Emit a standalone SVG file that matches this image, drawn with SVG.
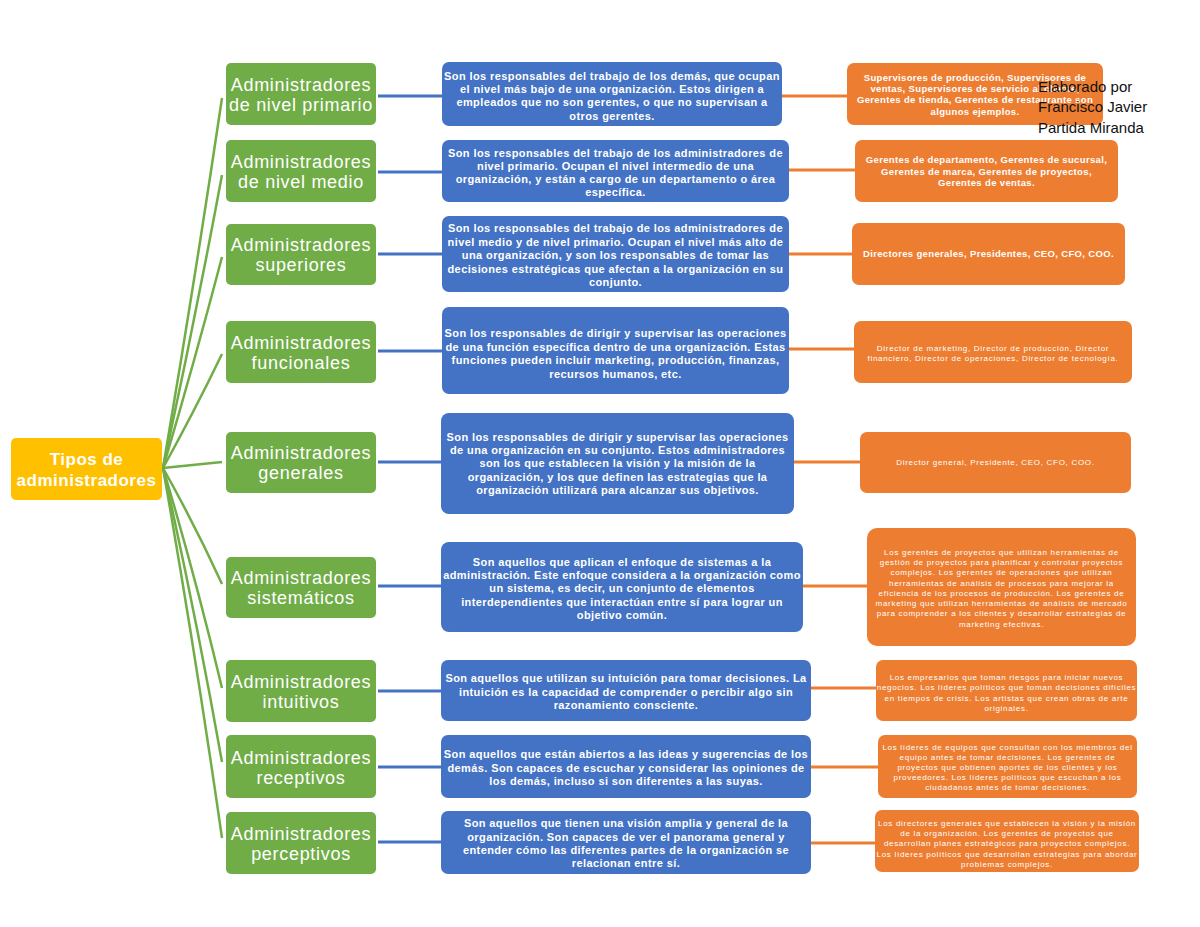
<svg xmlns="http://www.w3.org/2000/svg" width="1200" height="927" viewBox="0 0 1200 927">
<style>
.root{fill:#FFC000}
.g{fill:#70AD47}
.b{fill:#4472C4}
.o{fill:#ED7D31}
.rt{font-family:"Liberation Sans",Arial,sans-serif;font-size:17px;font-weight:bold;fill:#fff;text-anchor:middle;letter-spacing:0.5px}
.gt{font-family:"Liberation Sans",Arial,sans-serif;font-size:18px;fill:#fff;text-anchor:middle;letter-spacing:0.7px}
.bt{font-family:"Liberation Sans",Arial,sans-serif;font-size:11px;font-weight:bold;fill:#fff;text-anchor:middle;letter-spacing:0.4px}
.ot{font-family:"Liberation Sans",Arial,sans-serif;font-size:9.5px;font-weight:bold;fill:#fff;text-anchor:middle;letter-spacing:0.35px}
.os{font-family:"Liberation Sans",Arial,sans-serif;font-size:8px;fill:#fff;text-anchor:middle;letter-spacing:0.7px}
.cg{stroke:#70AD47;stroke-width:2.5;fill:none}
.cb{stroke:#4472C4;stroke-width:3;fill:none}
.co{stroke:#ED7D31;stroke-width:3;fill:none}
.auth{font-family:"Liberation Sans",Arial,sans-serif;font-size:15px;fill:#111}
</style>

<g id="connectors">
  <path class="cg" d="M163,468 Q195,280 222,98"/>
  <path class="cg" d="M163,468 Q195,320 222,175"/>
  <path class="cg" d="M163,468 Q195,360 222,257"/>
  <path class="cg" d="M163,468 Q195,410 222,354"/>
  <line class="cg" x1="163" y1="468" x2="222" y2="462"/>
  <path class="cg" d="M163,468 Q195,525 222,584"/>
  <path class="cg" d="M163,468 Q195,575 222,688"/>
  <path class="cg" d="M163,468 Q195,610 222,762"/>
  <path class="cg" d="M163,468 Q195,650 222,838"/>

  <line class="cb" x1="378" y1="96" x2="442" y2="96"/>
  <line class="cb" x1="378" y1="172" x2="442" y2="172"/>
  <line class="cb" x1="378" y1="254" x2="442" y2="254"/>
  <line class="cb" x1="378" y1="351" x2="442" y2="351"/>
  <line class="cb" x1="378" y1="462" x2="441" y2="462"/>
  <line class="cb" x1="378" y1="586" x2="441" y2="586"/>
  <line class="cb" x1="378" y1="691" x2="441" y2="691"/>
  <line class="cb" x1="378" y1="767" x2="441" y2="767"/>
  <line class="cb" x1="378" y1="842" x2="441" y2="842"/>

  <line class="co" x1="782" y1="96" x2="847" y2="96"/>
  <line class="co" x1="789" y1="170" x2="855" y2="170"/>
  <line class="co" x1="789" y1="254" x2="852" y2="254"/>
  <line class="co" x1="789" y1="349" x2="854" y2="349"/>
  <line class="co" x1="794" y1="462" x2="860" y2="462"/>
  <line class="co" x1="803" y1="586" x2="867" y2="586"/>
  <line class="co" x1="811" y1="688" x2="876" y2="688"/>
  <line class="co" x1="811" y1="767" x2="878" y2="767"/>
  <line class="co" x1="811" y1="843" x2="875" y2="843"/>
</g>

<g id="root">
  <rect class="root" x="11" y="438" width="151" height="62" rx="5"/>
  <text class="rt" x="86.5" y="465">Tipos de</text>
  <text class="rt" x="86.5" y="486">administradores</text>
</g>

<g id="g1"><rect class="g" x="226" y="63" width="150" height="62" rx="5"/>
  <text class="gt" x="301" y="91">Administradores</text><text class="gt" x="301" y="111">de nivel primario</text></g>
<g id="g2"><rect class="g" x="226" y="140" width="150" height="62" rx="5"/>
  <text class="gt" x="301" y="168">Administradores</text><text class="gt" x="301" y="188">de nivel medio</text></g>
<g id="g3"><rect class="g" x="226" y="224" width="150" height="61" rx="5"/>
  <text class="gt" x="301" y="251">Administradores</text><text class="gt" x="301" y="271">superiores</text></g>
<g id="g4"><rect class="g" x="226" y="321" width="150" height="62" rx="5"/>
  <text class="gt" x="301" y="349">Administradores</text><text class="gt" x="301" y="369">funcionales</text></g>
<g id="g5"><rect class="g" x="226" y="432" width="150" height="61" rx="5"/>
  <text class="gt" x="301" y="459">Administradores</text><text class="gt" x="301" y="479">generales</text></g>
<g id="g6"><rect class="g" x="226" y="557" width="150" height="61" rx="5"/>
  <text class="gt" x="301" y="584">Administradores</text><text class="gt" x="301" y="604">sistemáticos</text></g>
<g id="g7"><rect class="g" x="226" y="660" width="150" height="62" rx="5"/>
  <text class="gt" x="301" y="688">Administradores</text><text class="gt" x="301" y="708">intuitivos</text></g>
<g id="g8"><rect class="g" x="226" y="735" width="150" height="63" rx="5"/>
  <text class="gt" x="301" y="764">Administradores</text><text class="gt" x="301" y="784">receptivos</text></g>
<g id="g9"><rect class="g" x="226" y="812" width="150" height="62" rx="5"/>
  <text class="gt" x="301" y="840">Administradores</text><text class="gt" x="301" y="860">perceptivos</text></g>

<g id="b1"><rect class="b" x="442" y="62" width="340" height="64" rx="7"/>
  <text class="bt" x="612" y="80">Son los responsables del trabajo de los demás, que ocupan</text>
  <text class="bt" x="612" y="93">el nivel más bajo de una organización. Estos dirigen a</text>
  <text class="bt" x="612" y="106">empleados que no son gerentes, o que no supervisan a</text>
  <text class="bt" x="612" y="119.5">otros gerentes.</text></g>
<g id="b2"><rect class="b" x="442" y="140" width="347" height="62" rx="7"/>
  <text class="bt" x="615.5" y="157">Son los responsables del trabajo de los administradores de</text>
  <text class="bt" x="615.5" y="170">nivel primario. Ocupan el nivel intermedio de una</text>
  <text class="bt" x="615.5" y="183">organización, y están a cargo de un departamento o área</text>
  <text class="bt" x="615.5" y="196">específica.</text></g>
<g id="b3"><rect class="b" x="442" y="216" width="347" height="76" rx="7"/>
  <text class="bt" x="615.5" y="232">Son los responsables del trabajo de los administradores de</text>
  <text class="bt" x="615.5" y="245.5">nivel medio y de nivel primario. Ocupan el nivel más alto de</text>
  <text class="bt" x="615.5" y="259">una organización, y son los responsables de tomar las</text>
  <text class="bt" x="615.5" y="272.5">decisiones estratégicas que afectan a la organización en su</text>
  <text class="bt" x="615.5" y="286">conjunto.</text></g>
<g id="b4"><rect class="b" x="442" y="307" width="347" height="87" rx="7"/>
  <text class="bt" x="615.5" y="337">Son los responsables de dirigir y supervisar las operaciones</text>
  <text class="bt" x="615.5" y="350.5">de una función específica dentro de una organización. Estas</text>
  <text class="bt" x="615.5" y="364">funciones pueden incluir marketing, producción, finanzas,</text>
  <text class="bt" x="615.5" y="377.5">recursos humanos, etc.</text></g>
<g id="b5"><rect class="b" x="441" y="413" width="353" height="101" rx="8"/>
  <text class="bt" x="617.5" y="440.5">Son los responsables de dirigir y supervisar las operaciones</text>
  <text class="bt" x="617.5" y="454">de una organización en su conjunto. Estos administradores</text>
  <text class="bt" x="617.5" y="467">son los que establecen la visión y la misión de la</text>
  <text class="bt" x="617.5" y="480.5">organización, y los que definen las estrategias que la</text>
  <text class="bt" x="617.5" y="494">organización utilizará para alcanzar sus objetivos.</text></g>
<g id="b6"><rect class="b" x="441" y="542" width="362" height="90" rx="8"/>
  <text class="bt" x="622" y="565.5">Son aquellos que aplican el enfoque de sistemas a la</text>
  <text class="bt" x="622" y="579">administración. Este enfoque considera a la organización como</text>
  <text class="bt" x="622" y="592">un sistema, es decir, un conjunto de elementos</text>
  <text class="bt" x="622" y="605.5">interdependientes que interactúan entre sí para lograr un</text>
  <text class="bt" x="622" y="619">objetivo común.</text></g>
<g id="b7"><rect class="b" x="441" y="660" width="370" height="61" rx="7"/>
  <text class="bt" x="626" y="682">Son aquellos que utilizan su intuición para tomar decisiones. La</text>
  <text class="bt" x="626" y="695.5">intuición es la capacidad de comprender o percibir algo sin</text>
  <text class="bt" x="626" y="709">razonamiento consciente.</text></g>
<g id="b8"><rect class="b" x="441" y="735" width="370" height="63" rx="7"/>
  <text class="bt" x="626" y="758">Son aquellos que están abiertos a las ideas y sugerencias de los</text>
  <text class="bt" x="626" y="771.5">demás. Son capaces de escuchar y considerar las opiniones de</text>
  <text class="bt" x="626" y="785">los demás, incluso si son diferentes a las suyas.</text></g>
<g id="b9"><rect class="b" x="441" y="811" width="370" height="63" rx="7"/>
  <text class="bt" x="626" y="826.5">Son aquellos que tienen una visión amplia y general de la</text>
  <text class="bt" x="626" y="840.5">organización. Son capaces de ver el panorama general y</text>
  <text class="bt" x="626" y="854">entender cómo las diferentes partes de la organización se</text>
  <text class="bt" x="626" y="867">relacionan entre sí.</text></g>

<g id="o1"><rect class="o" x="847" y="63" width="256" height="62" rx="7"/>
  <text class="ot" x="975" y="81">Supervisores de producción, Supervisores de</text>
  <text class="ot" x="975" y="92">ventas, Supervisores de servicio al cliente,</text>
  <text class="ot" x="975" y="103">Gerentes de tienda, Gerentes de restaurante son</text>
  <text class="ot" x="975" y="114.5">algunos ejemplos.</text></g>
<g id="o2"><rect class="o" x="855" y="140" width="263" height="62" rx="7"/>
  <text class="ot" x="986.5" y="163">Gerentes de departamento, Gerentes de sucursal,</text>
  <text class="ot" x="986.5" y="175">Gerentes de marca, Gerentes de proyectos,</text>
  <text class="ot" x="986.5" y="186">Gerentes de ventas.</text></g>
<g id="o3"><rect class="o" x="852" y="223" width="273" height="62" rx="7"/>
  <text class="ot" x="988.5" y="257">Directores generales, Presidentes, CEO, CFO, COO.</text></g>
<g id="o4"><rect class="o" x="854" y="321" width="278" height="62" rx="7"/>
  <text class="os" x="993" y="351">Director de marketing, Director de producción, Director</text>
  <text class="os" x="993" y="361">financiero, Director de operaciones, Director de tecnología.</text></g>
<g id="o5"><rect class="o" x="860" y="432" width="271" height="61" rx="7"/>
  <text class="os" x="995.5" y="465">Director general, Presidente, CEO, CFO, COO.</text></g>
<g id="o6"><rect class="o" x="867" y="528" width="269" height="118" rx="10"/>
  <text class="os" x="1001.5" y="555">Los gerentes de proyectos que utilizan herramientas de</text>
  <text class="os" x="1001.5" y="565">gestión de proyectos para planificar y controlar proyectos</text>
  <text class="os" x="1001.5" y="575">complejos. Los gerentes de operaciones que utilizan</text>
  <text class="os" x="1001.5" y="585.5">herramientas de análisis de procesos para mejorar la</text>
  <text class="os" x="1001.5" y="596">eficiencia de los procesos de producción. Los gerentes de</text>
  <text class="os" x="1001.5" y="606">marketing que utilizan herramientas de análisis de mercado</text>
  <text class="os" x="1001.5" y="616">para comprender a los clientes y desarrollar estrategias de</text>
  <text class="os" x="1001.5" y="626.5">marketing efectivas.</text></g>
<g id="o7"><rect class="o" x="876" y="660" width="261" height="61" rx="7"/>
  <text class="os" x="1006.5" y="680">Los empresarios que toman riesgos para iniciar nuevos</text>
  <text class="os" x="1006.5" y="690">negocios. Los líderes políticos que toman decisiones difíciles</text>
  <text class="os" x="1006.5" y="700.5">en tiempos de crisis. Los artistas que crean obras de arte</text>
  <text class="os" x="1006.5" y="710.5">originales.</text></g>
<g id="o8"><rect class="o" x="878" y="735" width="259" height="63" rx="7"/>
  <text class="os" x="1007.5" y="750">Los líderes de equipos que consultan con los miembros del</text>
  <text class="os" x="1007.5" y="760">equipo antes de tomar decisiones. Los gerentes de</text>
  <text class="os" x="1007.5" y="770">proyectos que obtienen aportes de los clientes y los</text>
  <text class="os" x="1007.5" y="780">proveedores. Los líderes políticos que escuchan a los</text>
  <text class="os" x="1007.5" y="790">ciudadanos antes de tomar decisiones.</text></g>
<g id="o9"><rect class="o" x="875" y="810" width="264" height="62" rx="7"/>
  <text class="os" x="1007" y="826">Los directores generales que establecen la visión y la misión</text>
  <text class="os" x="1007" y="836">de la organización. Los gerentes de proyectos que</text>
  <text class="os" x="1007" y="846">desarrollan planes estratégicos para proyectos complejos.</text>
  <text class="os" x="1007" y="856.5">Los líderes políticos que desarrollan estrategias para abordar</text>
  <text class="os" x="1007" y="867">problemas complejos.</text></g>

<g id="author">
  <text class="auth" x="1038" y="92">Elaborado por</text>
  <text class="auth" x="1038" y="112">Francisco Javier</text>
  <text class="auth" x="1038" y="133">Partida Miranda</text>
</g>
</svg>
